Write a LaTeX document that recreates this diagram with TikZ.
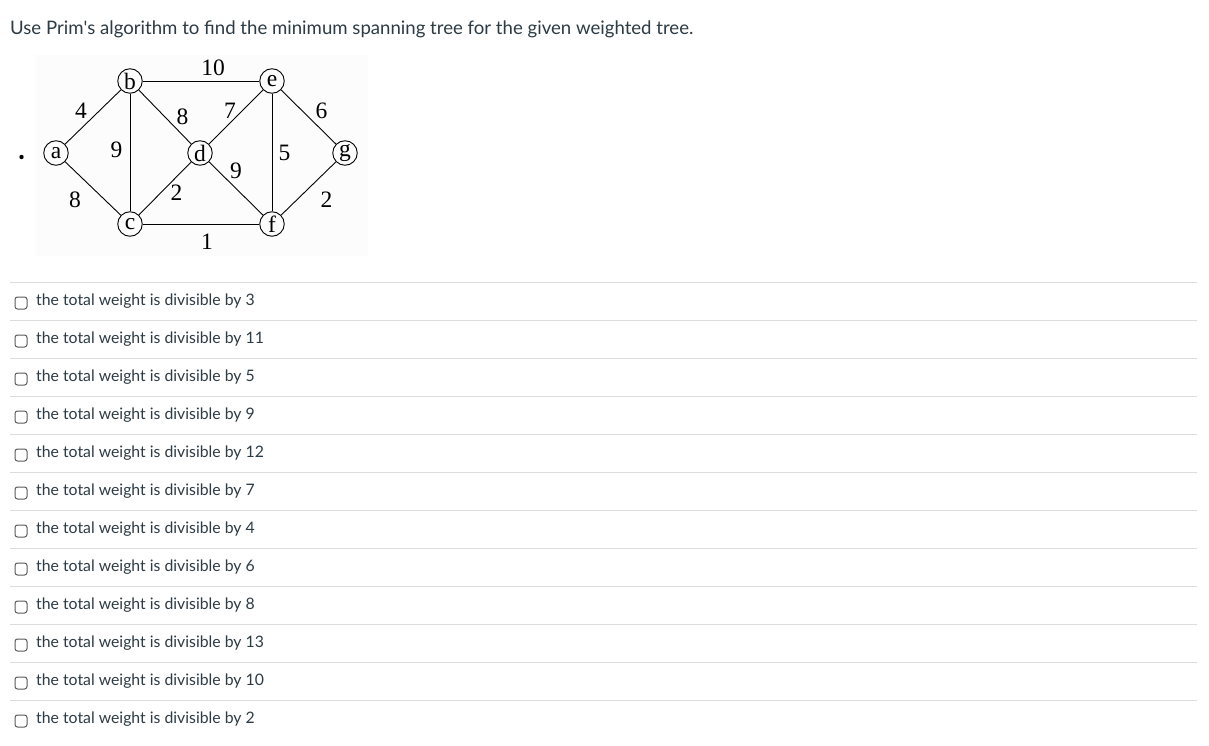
\documentclass[tikz,border=0pt]{standalone}
\usepackage{fontspec}
\setmainfont{Lato}
\newfontfamily\graphfont{Liberation Serif}
\definecolor{txt}{HTML}{2D3B45}
\definecolor{sep}{HTML}{DCDCDC}
\definecolor{boxc}{HTML}{5A5A5A}
\definecolor{graphbg}{HTML}{FCFCFC}
\begin{document}
\begin{tikzpicture}[x=1pt,y=-1pt,
  vert/.style={circle,draw,line width=0.9pt,minimum size=24.5pt,inner sep=0pt,font=\graphfont\fontsize{23.5}{23.5}\selectfont},
  wlab/.style={font=\graphfont\fontsize{23.5}{23.5}\selectfont,inner sep=0pt},
  edge/.style={line width=0.9pt},
  item/.style={anchor=west,font=\fontsize{15.8}{19}\selectfont,text=txt,inner sep=0pt},
  cbox/.style={draw=boxc,line width=1pt,rounded corners=2.5pt,minimum size=12pt,inner sep=0pt},
  sepline/.style={draw=sep,line width=1pt}]
\useasboundingbox (0,0) rectangle (1209,746);
\fill[white] (0,0) rectangle (1209,746);
\node[anchor=west,font=\fontsize{18.6}{22}\selectfont,text=txt,inner sep=0pt] (title) at (10,29.5) {Use Prim\textquotesingle s algorithm to find the minimum spanning tree for the given weighted tree.};
% graph
\fill[graphbg] (35,55) rectangle (368,256);
\fill[black] (21.5,157) circle (2.2pt);
\node[vert] (a) at (56,153) {a};
\node[vert] (b) at (130,81) {b};
\node[vert] (c) at (130,224) {c};
\node[vert] (d) at (200,153) {d};
\node[vert] (e) at (272,81) {e};
\node[vert] (f) at (272,224) {f};
\node[vert] (g) at (345,153) {g};
\draw[edge] (a) -- (b);
\draw[edge] (a) -- (c);
\draw[edge] (b) -- (c);
\draw[edge] (b) -- (d);
\draw[edge] (b) -- (e);
\draw[edge] (c) -- (d);
\draw[edge] (c) -- (f);
\draw[edge] (d) -- (e);
\draw[edge] (d) -- (f);
\draw[edge] (e) -- (f);
\draw[edge] (e) -- (g);
\draw[edge] (f) -- (g);
\node[wlab] (w10) at (213,68) {10};
\node[wlab] (w4) at (81,111) {4};
\node[wlab] (w8a) at (182.5,116.5) {8};
\node[wlab] (w7) at (230,111) {7};
\node[wlab] (w6) at (321.5,111) {6};
\node[wlab] (w9a) at (116.5,150) {9};
\node[wlab] (w5) at (284.5,153) {5};
\node[wlab] (w9b) at (236,170.5) {9};
\node[wlab] (w8b) at (75,200) {8};
\node[wlab] (w2a) at (176.5,193) {2};
\node[wlab] (w2b) at (326.5,200) {2};
\node[wlab] (w1) at (207,242) {1};
% checklist
\foreach \n [count=\i from 0] in {3,11,5,9,12,7,4,6,8,13,10,2} {
  \draw[sepline] (10,{282+38*\i}) -- (1197,{282+38*\i});
  \node[cbox] (cb\i) at (21,{303+38*\i}) {};
  \node[item] (it\i) at (36,{301.5+38*\i}) {the total weight is divisible by \n};
}
\end{tikzpicture}
\end{document}
